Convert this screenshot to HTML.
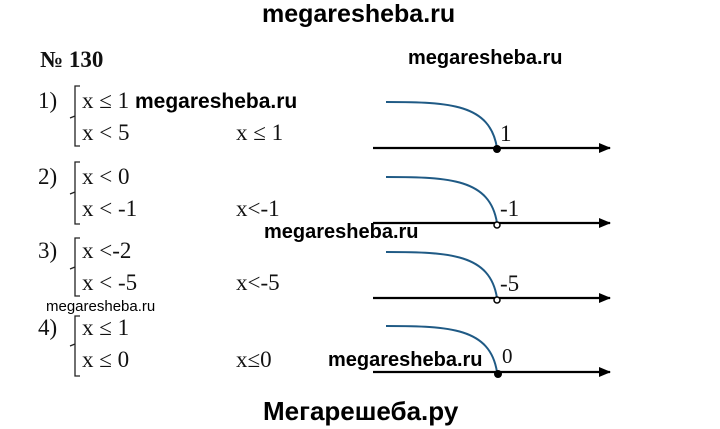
<!DOCTYPE html>
<html><head><meta charset="utf-8"><style>
html,body{margin:0;padding:0;background:#fff;width:720px;height:429px;overflow:hidden}
svg{display:block}
.s{font-family:"Liberation Serif",serif;font-size:23px;fill:#111}
.w{font-family:"Liberation Sans",sans-serif;font-weight:bold;fill:#000}
</style></head><body>
<svg width="720" height="429" viewBox="0 0 720 429" xmlns="http://www.w3.org/2000/svg">
<defs><marker id="a" markerWidth="12" markerHeight="10" refX="11" refY="5" orient="auto" markerUnits="userSpaceOnUse"><path d="M0,0 L12,5 L0,10 Z" fill="#000"/></marker></defs>
<text x="262" y="22" class="w" font-size="25">megaresheba.ru</text>
<text x="408" y="64" class="w" font-size="20">megaresheba.ru</text>
<text x="40" y="67" class="s" font-weight="bold" font-size="27">№ 130</text>

<g class="s">
<text x="38" y="108">1)</text><text x="82" y="108">x ≤ 1</text><text x="82" y="140">x &lt; 5</text><text x="236" y="140">x ≤ 1</text>
<text x="38" y="184">2)</text><text x="82" y="184">x &lt; 0</text><text x="82" y="216">x &lt; -1</text><text x="236" y="216">x&lt;-1</text>
<text x="38" y="258">3)</text><text x="82" y="258">x &lt;-2</text><text x="82" y="290">x &lt; -5</text><text x="236" y="290">x&lt;-5</text>
<text x="38" y="335">4)</text><text x="82" y="335">x ≤ 1</text><text x="82" y="367">x ≤ 0</text><text x="236" y="367">x≤0</text>
</g>
<g fill="none" stroke="#222" stroke-width="1.3">
<path d="M80,86 L75,86 L75,146 L80,146 M75,116 L70,118"/>
<path d="M80,162 L75,162 L75,224 L80,224 M75,192 L70,194"/>
<path d="M80,238 L75,238 L75,296 L80,296 M75,267 L70,269"/>
<path d="M80,316 L75,316 L75,376 L80,376 M75,344 L70,346"/>
</g>
<text x="135" y="108" class="w" font-size="21">megaresheba.ru</text>
<text x="264" y="238" class="w" font-size="20">megaresheba.ru</text>
<text x="46" y="311" font-family="Liberation Sans,sans-serif" font-size="15" fill="#000">megaresheba.ru</text>

<g stroke="#000" stroke-width="2.2">
<line x1="373" y1="148" x2="610" y2="148" marker-end="url(#a)"/>
<line x1="373" y1="223" x2="610" y2="223" marker-end="url(#a)"/>
<line x1="373" y1="298" x2="610" y2="298" marker-end="url(#a)"/>
<line x1="373" y1="372" x2="610" y2="372" marker-end="url(#a)"/>
</g>
<g fill="none" stroke="#1f5a85" stroke-width="2">
<path d="M386,102 C450,102 490,104 497,148"/>
<path d="M386,177 C450,177 490,179 497,223"/>
<path d="M386,252 C450,252 490,254 497,298"/>
<path d="M386,326 C450,326 490,328 497,372"/>
</g>
<circle cx="497" cy="149" r="4" fill="#000"/>
<circle cx="497" cy="225" r="3" fill="#fff" stroke="#000" stroke-width="1.5"/>
<circle cx="497" cy="300" r="3" fill="#fff" stroke="#000" stroke-width="1.5"/>
<circle cx="498" cy="374" r="4" fill="#000"/>
<g class="s">
<text x="500" y="141">1</text>
<text x="500" y="216">-1</text>
<text x="500" y="291">-5</text>
<text x="502" y="363" font-size="21">0</text>
</g>
<text x="328" y="366" class="w" font-size="20">megaresheba.ru</text>
<text x="263" y="420" class="w" font-size="26">Мегарешеба.ру</text>
</svg>
</body></html>
